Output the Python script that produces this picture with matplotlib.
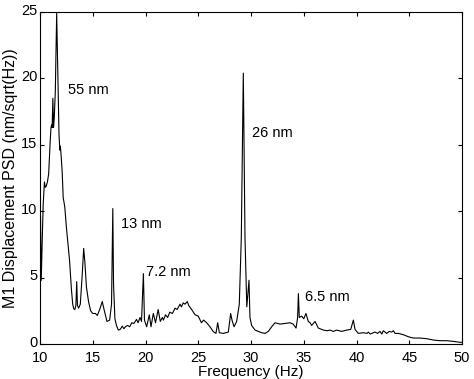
import matplotlib
matplotlib.use('Agg')
import matplotlib.pyplot as plt
import matplotlib.transforms as mtransforms
import numpy as np

plt.rcParams['font.family'] = ['Liberation Sans', 'DejaVu Sans']

#------------------------------------------------------------------------------
# DATA

freq = [10.0, 10.05, 10.12, 10.2, 10.3, 10.42, 10.5, 10.6, 10.7, 10.82,
        10.95, 11.04, 11.1, 11.15, 11.22, 11.28, 11.35, 11.45, 11.58, 11.7,
        11.8, 11.88, 11.93, 12.0, 12.1, 12.2, 12.27, 12.35, 12.5, 12.62,
        12.8, 12.97, 13.1, 13.2, 13.3, 13.4, 13.48, 13.55, 13.66, 13.82,
        14.0, 14.14, 14.25, 14.4, 14.6, 14.8, 15.0, 15.25, 15.43, 15.66,
        15.9, 16.1, 16.35, 16.6, 16.78, 16.9, 16.97, 17.1, 17.25, 17.42,
        17.6, 17.8, 17.95, 18.1, 18.3, 18.5, 18.7, 18.9, 19.15, 19.3,
        19.48, 19.62, 19.8, 19.9, 20.11, 20.36, 20.52, 20.74, 20.95, 21.2,
        21.4, 21.6, 21.7, 21.9, 22.1, 22.3, 22.55, 22.8, 23.0, 23.27,
        23.4, 23.58, 23.75, 23.96, 24.1, 24.37, 24.7, 25.0, 25.3, 25.5,
        25.8, 26.11, 26.43, 26.68, 26.84, 27.0, 27.38, 27.85, 28.07, 28.2,
        28.39, 28.64, 28.89, 29.08, 29.27, 29.43, 29.6, 29.81, 29.9, 30.06,
        30.38, 30.7, 31.01, 31.33, 31.64, 31.96, 32.27, 32.75, 33.22, 33.7,
        34.0, 34.27, 34.42, 34.49, 34.58, 34.8, 35.0, 35.21, 35.43, 35.6,
        35.75, 36.07, 36.38, 36.86, 37.2, 37.49, 37.8, 38.12, 38.6, 39.07,
        39.45, 39.7, 39.86, 40.17, 40.65, 41.0, 41.12, 41.3, 41.6, 41.75,
        42.0, 42.23, 42.4, 42.54, 42.86, 43.1, 43.33, 43.5, 43.65, 43.96,
        44.44, 44.91, 45.38, 46.02, 46.65, 47.28, 47.91, 48.55, 49.18, 49.8,
        50.0]

psd = [12.5, 9.0, 4.8, 7.5, 10.5, 12.2, 11.8, 11.9, 12.2, 12.8,
       15.0, 16.3, 16.5, 16.3, 18.5, 16.3, 17.0, 19.0, 24.9, 20.0,
       15.8, 14.6, 14.9, 14.2, 13.0, 11.0, 10.7, 10.3, 8.8, 7.8,
       6.3, 4.2, 3.0, 2.65, 2.6, 2.9, 4.7, 2.9, 2.7, 3.0,
       5.2, 7.2, 6.2, 4.3, 3.2, 2.5, 2.3, 2.3, 2.15, 2.6,
       3.2, 2.5, 1.7, 1.8, 3.0, 10.2, 4.5, 1.9, 1.4, 1.05,
       1.1, 1.35, 1.15, 1.3, 1.4, 1.3, 1.6, 1.55, 1.85, 1.6,
       2.0, 1.7, 5.3, 1.8, 1.3, 2.2, 1.3, 2.3, 1.6, 2.6,
       1.7, 2.0, 1.8, 2.2, 2.0, 2.4, 2.3, 2.7, 2.6, 3.0,
       2.8, 3.1, 3.0, 3.2, 2.9, 2.6, 2.2, 2.1, 1.6, 1.8,
       1.6, 1.3, 0.93, 0.8, 1.6, 0.85, 0.8, 0.9, 2.3, 1.8,
       1.3, 1.7, 3.0, 8.0, 20.4, 8.0, 2.8, 4.8, 2.0, 1.4,
       1.05, 0.95, 0.85, 0.8, 0.95, 1.3, 1.6, 1.5, 1.55, 1.6,
       1.5, 1.2, 2.0, 3.8, 2.0, 2.1, 1.9, 2.3, 1.7, 1.6,
       1.4, 1.7, 1.2, 1.05, 1.0, 1.05, 0.95, 1.05, 0.95, 1.05,
       1.1, 1.8, 1.1, 0.8, 0.85, 0.8, 0.9, 0.75, 0.85, 0.9,
       0.8, 0.95, 0.75, 1.0, 0.8, 0.95, 0.9, 1.0, 0.8, 0.8,
       0.7, 0.55, 0.45, 0.45, 0.4, 0.3, 0.25, 0.25, 0.2, 0.13,
       0.12]

# Peak labels
label_text = ['55 nm', '13 nm', '7.2 nm', '26 nm', '6.5 nm']
label_x = [12.65, 17.65, 20.05, 30.05, 35.1]
label_y = [19.1, 9.0, 5.4, 15.9, 3.55]

#------------------------------------------------------------------------------
# PLOT THE GRAPH

fig = plt.figure(figsize=(4.74, 3.79), dpi=100)
ax = fig.add_axes([0.0844, 0.0923, 0.8903, 0.8760])

ax.plot(freq, psd, c='black', lw=0.8)

for t, x, y in zip(label_text, label_x, label_y):
    ax.text(x, y, t, fontsize=10.5, ha='left', va='center')

ax.set_xlim(10, 50)
ax.set_ylim(0, 25)
ax.set_xticks(np.arange(10, 51, 5))
ax.set_yticks(np.arange(0, 26, 5))
ax.tick_params(direction='in', top=True, right=True, labelsize=10.5, length=3)
ax.tick_params(axis='x', pad=5)
ax.tick_params(axis='y', pad=2)

# nudge the y tick labels up a little so "0" clears the "10" below it
shift = mtransforms.ScaledTranslation(0, 2.0 / 72, fig.dpi_scale_trans)
for lab in ax.get_yticklabels():
    lab.set_transform(lab.get_transform() + shift)

ax.set_xlabel('Frequency (Hz)', fontsize=11, labelpad=0)
ax.set_ylabel('M1 Displacement PSD (nm/sqrt(Hz))', fontsize=11.5, labelpad=2)

fig.savefig('out.png', dpi=100)
